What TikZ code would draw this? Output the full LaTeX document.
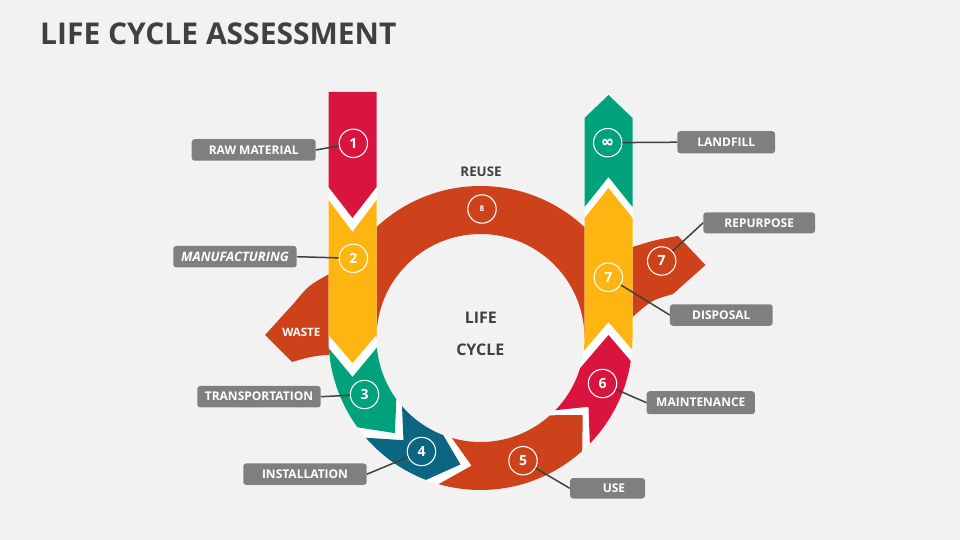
\documentclass[tikz,border=0pt]{standalone}
\usepackage{fontspec}
\setmainfont{Open Sans}
\usetikzlibrary{calc}
\definecolor{bg}{HTML}{F2F2F2}
\definecolor{cred}{HTML}{D8143F}
\definecolor{cyel}{HTML}{FFB511}
\definecolor{cgreen}{HTML}{00A27B}
\definecolor{cblue}{HTML}{0D6681}
\definecolor{corange}{HTML}{CD421A}
\definecolor{boxgray}{HTML}{7F7F7F}
\definecolor{linegray}{HTML}{404040}
\definecolor{titlegray}{HTML}{404040}
\begin{document}
\begin{tikzpicture}[x=1pt,y=-1pt,
  lab/.style={fill=boxgray, rounded corners=3pt, text=white, font=\bfseries\fontsize{12}{13}\selectfont, minimum height=21.5pt, inner sep=0pt},
  num/.style={circle, draw=white, line width=1.1pt, minimum size=28.4pt, inner sep=0pt, text=white, font=\bfseries\fontsize{14}{14}\selectfont},
  conn/.style={draw=linegray, line width=1.5pt},
  dark/.style={text=titlegray, font=\bfseries\fontsize{16}{16}\selectfont, inner sep=0pt}]
\fill[bg] (0,0) rectangle (960,540);
\useasboundingbox (0,0) rectangle (960,540);
\node[anchor=base west, text=titlegray, font=\bfseries\fontsize{30}{30}\selectfont, inner sep=0pt] (title) at (40,45) {LIFE CYCLE ASSESSMENT};
\coordinate (C) at (480.5,338);
% upper ring (reuse)
\fill[corange] ($(C)+(180:152)$) arc[start angle=180,end angle=360,radius=152] -- ($(C)+(0:104)$) arc[start angle=360,end angle=180,radius=104] -- cycle;
% waste arm
\fill[corange] (350,264) -- (329,274) .. controls (308,286) .. (295,302) -- (265,335) -- (292,362) .. controls (312,356) .. (350,353) -- cycle;
% repurpose arm
\fill[corange] (610,250) -- (632.5,247) .. controls (655,240) .. (678,236) -- (705.5,265) -- (673,294) .. controls (652,300) .. (632.5,317) -- (610,320) -- cycle;
% chevron points on the ring
\foreach \n/\s/\t in {5/144/132, 6/139/127, 7/111/99, 8/106/94, 9/48/37, 10/44/32.5}{
  \coordinate (T\n) at ($(C)+(\t:128)$);
  \coordinate (Po\n) at ($(C)+(\s:152)$);
  \coordinate (Pi\n) at ($(C)+(\s:104)$);
  \coordinate (Eo\n) at ($(T\n)!2!(Po\n)$);
  \coordinate (Ei\n) at ($(T\n)!2!(Pi\n)$);
}
\begin{scope}
\clip (328.5,92) -- (376.5,92) -- (376.5,338) arc[start angle=180,end angle=0,radius=104] -- (584.5,118) -- (608.5,95) -- (632.5,118) -- (632.5,338) arc[start angle=0,end angle=180,radius=152] -- cycle;
\fill[white] (300,80) rectangle (670,500);
% 1 red
\fill[cred] (300,80) -- (410,80) -- (400.5,156) -- (352.5,218) -- (304.5,156) -- cycle;
% 2 yellow
\fill[cyel] (304.5,168) -- (352.5,232) -- (400.5,168) -- (400.5,307) -- (352.5,363) -- (304.5,307) -- cycle;
% 3 green
\fill[cgreen] (304.5,319) -- (352.5,377) -- (400.5,319) -- (Ei5) -- (T5) -- (Eo5) -- cycle;
% 4 blue
\fill[cblue] (Eo6) -- (T6) -- (Ei6) -- (Ei7) -- (T7) -- (Eo7) -- cycle;
% 5 orange
\fill[corange] (Eo8) -- (T8) -- (Ei8) -- (Ei9) -- (T9) -- (Eo9) -- ($(C)+(70:190)$) -- cycle;
% 6 red
\fill[cred] (Eo10) -- (T10) -- (Ei10) -- (560.5,391) -- (608.5,335) -- (656.5,391) -- cycle;
% 7 yellow
\fill[cyel] (560.5,378) -- (608.5,322) -- (656.5,378) -- (656.5,248) -- (608.5,188) -- (560.5,248) -- cycle;
% 8 green
\fill[cgreen] (560.5,237) -- (608.5,177) -- (656.5,237) -- (656.5,80) -- (560.5,80) -- cycle;
\end{scope}
% texts
\node[dark] (life) at (480.8,318) {LIFE};
\node[dark] (cycle) at (480.3,349.7) {CYCLE};
\node[dark, font=\bfseries\fontsize{13.3}{13.3}\selectfont] (reuse) at (481,172) {REUSE};
\node[text=white, font=\bfseries\fontsize{11.5}{12}\selectfont, inner sep=0pt] (waste) at (301.3,332) {WASTE};
% number circles
\node[num] (c1) at (353.3,143.3) {1};
\node[num] (c2) at (353.3,258.3) {2};
\node[num] (c3) at (364.5,394.5) {3};
\node[num] (c4) at (421.5,451.5) {4};
\node[num] (c5) at (523,460.7) {5};
\node[num] (c6) at (602.5,383.5) {6};
\node[num] (c7) at (608.3,277.3) {7};
\node[num] (c7r) at (661.7,261) {7};
\node[num] (c8) at (607.7,142.7) {\rotatebox{90}{8}};
\node[num, font=\bfseries\fontsize{8}{8}\selectfont] (c8r) at (482,209) {8};
% labels
\node[lab, minimum width=124pt] (l1) at (253.7,150) {RAW MATERIAL\hspace{12pt}};
\node[lab, minimum width=123.4pt, font=\bfseries\itshape\fontsize{13}{14}\selectfont] (l2) at (235,256.7) {MANUFACTURING\hspace{14pt}};
\node[lab, minimum width=123.4pt] (l3) at (259,396.7) {TRANSPORTATION\hspace{17pt}};
\node[lab, minimum width=123.4pt] (l4) at (305,474.2) {INSTALLATION\hspace{5pt}};
\node[lab, minimum width=75pt, minimum height=20.5pt] (l5) at (607.5,488.3) {\hspace{13pt}USE};
\node[lab, minimum width=108.3pt, minimum height=23pt] (l6) at (700.8,402.7) {MAINTENANCE\hspace{6pt}};
\node[lab, minimum width=102.7pt] (l7) at (721.3,315) {DISPOSAL};
\node[lab, minimum width=111.7pt, minimum height=21pt] (l7r) at (759.2,222.8) {REPURPOSE};
\node[lab, minimum width=97.7pt, minimum height=22.3pt] (l8) at (726.2,142.2) {LANDFILL};
% connectors
\draw[conn] (l1.east) -- (c1);
\draw[conn] (l2.east) -- (c2);
\draw[conn] (l3.east) -- (c3);
\draw[conn] (l4.east) -- (c4);
\draw[conn] (c5) -- (l5.west);
\draw[conn] (c6) -- (l6.west);
\draw[conn] (c7) -- (l7.west);
\draw[conn] (c7r) -- (l7r.west);
\draw[conn] (c8) -- (l8.west);
\end{tikzpicture}
\end{document}
